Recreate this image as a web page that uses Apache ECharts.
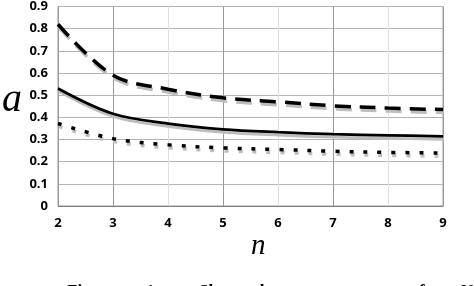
<!DOCTYPE html>
<html><head><meta charset="utf-8">
<script src="https://cdn.jsdelivr.net/npm/echarts@6/dist/echarts.min.js"></script>
<style>html,body{margin:0;padding:0;background:#fff}#c{width:474px;height:286px}</style>
</head><body><div id="c"></div>
<script>
const nValues = [2, 3, 4, 5, 6, 7, 8, 9];
const dashedSeries = [0.82, 0.59, 0.527, 0.488, 0.47, 0.452, 0.442, 0.435];
const solidSeries = [0.53, 0.416, 0.372, 0.346, 0.333, 0.324, 0.319, 0.314];
const dottedSeries = [0.372, 0.304, 0.276, 0.262, 0.255, 0.247, 0.242, 0.239];
const yTicks = [0, 0.1, 0.2, 0.3, 0.4, 0.5, 0.6, 0.7, 0.8, 0.9];
const captionWords = ["Figure", "1", "Shows", "the", "parameter", "for", "N"];
const captionX = [67, 146, 199, 254, 292, 419, 461];

const chart = echarts.init(document.getElementById('c'), null, {renderer: 'canvas'});
const pairs = arr => nValues.map((n, i) => [n, arr[i]]);
const lblFont = '"Open Sans", Lato, sans-serif';
function line(data, type, width, dash) {
  return {
    type: 'line', data: pairs(data), smooth: 0.35, symbol: 'none',
    lineStyle: {color: '#000', width: width, type: dash || type, cap: 'butt',
      shadowColor: '#bdbdbd', shadowBlur: 0, shadowOffsetX: 1, shadowOffsetY: 3},
    z: 3
  };
}
chart.setOption({
  animation: false,
  grid: {left: 58, right: 31, top: 6, bottom: 80, show: true, borderColor: '#9a9a9a', borderWidth: 1},
  xAxis: {
    type: 'value', min: 2, max: 9, interval: 1,
    axisLine: {show: true, lineStyle: {color: '#808080', width: 1}},
    axisTick: {show: false},
    axisLabel: {color: '#000', fontFamily: lblFont, fontWeight: 'bold', fontSize: 13, margin: 11},
    splitLine: {show: true, lineStyle: {width: 1, color: ['#9a9a9a', '#9a9a9a', '#dedede', '#9a9a9a', '#dedede', '#9a9a9a', '#dedede', '#9a9a9a']}}
  },
  yAxis: {
    type: 'value', min: 0, max: 0.9, interval: 0.1,
    axisLine: {show: false}, axisTick: {show: false},
    axisLabel: {color: '#000', fontFamily: lblFont, fontWeight: 'bold', fontSize: 13, margin: 10,
      formatter: v => { const t = yTicks.find(x => Math.abs(x - v) < 1e-6); return t === 0 ? '0' : String(t); }},
    splitLine: {show: true, lineStyle: {color: '#b4b4b4', width: 1}}
  },
  series: [
    line(dashedSeries, 'dashed', 3.5, [16, 9]),
    line(solidSeries, 'solid', 2.8),
    line(dottedSeries, 'dotted', 3.5, [4, 10])
  ],
  graphic: [
    {type: 'text', left: 2, top: 80, style: {text: 'a', font: 'italic 40px "Liberation Serif", "DejaVu Serif", serif', fill: '#000'}},
    {type: 'text', left: 251, top: 232, style: {text: 'n', font: 'italic 29px "Liberation Serif", "DejaVu Serif", serif', fill: '#000'}}
  ].concat(captionWords.map((w, i) => ({
    type: 'text', x: captionX[i], y: 283, z: 10,
    style: {text: w, font: 'bold 17px "Liberation Serif", serif', fill: '#000', verticalAlign: 'top'}
  })))
});
</script></body></html>
